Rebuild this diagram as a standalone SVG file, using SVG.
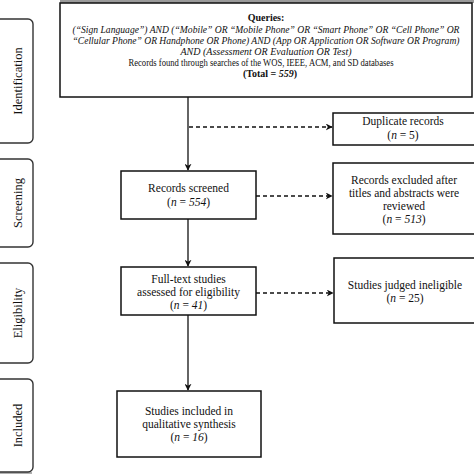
<svg xmlns="http://www.w3.org/2000/svg" width="474" height="474" viewBox="0 0 474 474">
<style>
text{font-family:"Liberation Serif","Times New Roman",serif;fill:#111}
.t{font-size:11.5px;text-anchor:middle}
.q{font-size:10px;text-anchor:middle}
.qs{font-size:9.6px;text-anchor:middle}
.lab{font-size:12.5px;text-anchor:middle}
.box{fill:#fff;stroke:#111;stroke-width:1.5}
.stage{fill:#fff;stroke:#333;stroke-width:1.4}
.solid{fill:none;stroke:#111;stroke-width:1.3}
.dash{fill:none;stroke:#111;stroke-width:1.3;stroke-dasharray:4 3}
.i{font-style:italic}
.b{font-weight:bold}
</style>
<defs>
<marker id="ah" viewBox="0 0 10 10" refX="9" refY="5" markerWidth="7" markerHeight="7" orient="auto" markerUnits="userSpaceOnUse">
<path d="M0,0 L10,5 L0,10 L3,5 Z" fill="#111"/>
</marker>
</defs>
<rect x="0" y="0" width="474" height="474" fill="#fff"/>
<rect x="60" y="0" width="414" height="3" fill="#9a9a9a"/>
<rect x="0" y="472" width="32" height="2" fill="#b0b0b0"/>

<g id="stage-identification">
<rect class="stage" x="-10" y="19" width="43" height="124" rx="5"/>
<text class="lab" transform="translate(21.5,81) rotate(-90)">Identification</text>
</g>
<g id="stage-screening">
<rect class="stage" x="-10" y="159" width="43" height="88" rx="5"/>
<text class="lab" transform="translate(21.5,203) rotate(-90)">Screening</text>
</g>
<g id="stage-eligibility">
<rect class="stage" x="-10" y="263" width="43" height="100" rx="5"/>
<text class="lab" transform="translate(21.5,313) rotate(-90)">Eligibility</text>
</g>
<g id="stage-included">
<rect class="stage" x="-10" y="379" width="43" height="93" rx="5"/>
<text class="lab" transform="translate(21.5,425.5) rotate(-90)">Included</text>
</g>

<g id="connectors">
<line class="solid" x1="188" y1="97" x2="188" y2="170" marker-end="url(#ah)"/>
<line class="solid" x1="188" y1="219" x2="188" y2="266" marker-end="url(#ah)"/>
<line class="solid" x1="188" y1="315" x2="188" y2="390" marker-end="url(#ah)"/>
<line class="dash" x1="189" y1="127" x2="332" y2="127" marker-end="url(#ah)"/>
<line class="dash" x1="256" y1="196" x2="332" y2="196" marker-end="url(#ah)"/>
<line class="dash" x1="256" y1="293" x2="333" y2="293" marker-end="url(#ah)"/>
</g>

<g id="node-queries">
<rect class="box" x="60" y="3" width="412" height="94"/>
<text class="q b" x="266" y="21">Queries:</text>
<text class="qs i" x="266" y="33" textLength="387" lengthAdjust="spacingAndGlyphs">(“Sign Language”) AND (“Mobile” OR “Mobile Phone” OR “Smart Phone” OR “Cell Phone” OR</text>
<text class="qs i" x="266" y="44" textLength="387" lengthAdjust="spacingAndGlyphs">“Cellular Phone” OR Handphone OR Phone) AND (App OR Application OR Software OR Program)</text>
<text class="q i" x="266" y="55">AND (Assessment OR Evaluation OR Test)</text>
<text class="q" x="261" y="65.5" textLength="265" lengthAdjust="spacingAndGlyphs">Records found through searches of the WOS, IEEE, ACM, and SD databases</text>
<text class="q b" x="270" y="76.5">(Total = <tspan class="i">559</tspan>)</text>
</g>

<g id="node-duplicates">
<rect class="box" x="333" y="113" width="145" height="32"/>
<text class="t" x="403" y="125">Duplicate records</text>
<text class="t" x="403" y="139">(<tspan class="i">n</tspan> = 5)</text>
</g>

<g id="node-screened">
<rect class="box" x="121" y="171" width="135" height="48"/>
<text class="t" x="188.5" y="192">Records screened</text>
<text class="t" x="188.5" y="206">(<tspan class="i">n</tspan> = <tspan class="i">554</tspan>)</text>
</g>

<g id="node-excluded">
<rect class="box" x="333" y="163" width="145" height="71"/>
<text class="t" x="404" y="184">Records excluded after</text>
<text class="t" x="404" y="197">titles and abstracts were</text>
<text class="t" x="404" y="210">reviewed</text>
<text class="t" x="404" y="223">(<tspan class="i">n</tspan> = <tspan class="i">513</tspan>)</text>
</g>

<g id="node-fulltext">
<rect class="box" x="121" y="267" width="135" height="48"/>
<text class="t" x="188.5" y="283">Full-text studies</text>
<text class="t" x="188.5" y="296">assessed for eligibility</text>
<text class="t" x="188.5" y="309">(<tspan class="i">n</tspan> = <tspan class="i">41</tspan>)</text>
</g>

<g id="node-ineligible">
<rect class="box" x="334" y="258" width="144" height="65"/>
<text class="t" x="405" y="289">Studies judged ineligible</text>
<text class="t" x="405" y="302">(<tspan class="i">n</tspan> = 25)</text>
</g>

<g id="node-included">
<rect class="box" x="117" y="391" width="144" height="66"/>
<text class="t" x="189" y="415">Studies included in</text>
<text class="t" x="189" y="428">qualitative synthesis</text>
<text class="t" x="189" y="441">(<tspan class="i">n</tspan> = <tspan class="i">16</tspan>)</text>
</g>
</svg>
